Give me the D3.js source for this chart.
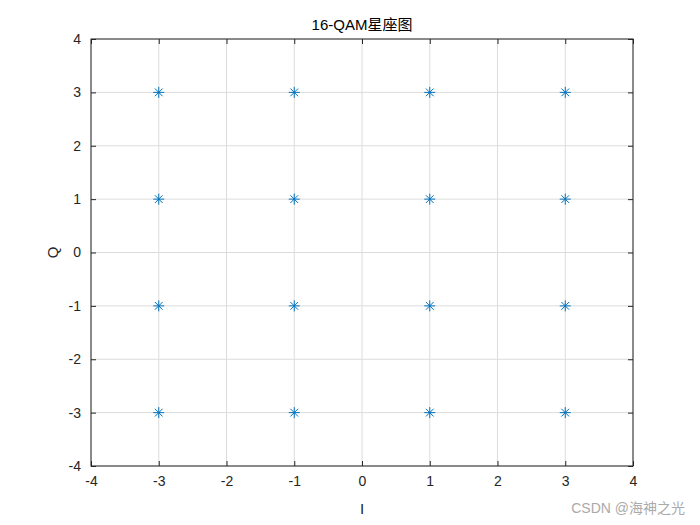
<!DOCTYPE html>
<html><head><meta charset="utf-8">
<script src="https://cdn.jsdelivr.net/npm/d3@7"></script>
<style>body{margin:0;background:#fff}svg{display:block}text{font-family:Arial,"Liberation Sans",sans-serif}</style>
</head><body>
<svg id="c" width="700" height="525"></svg>
<script>
const iValues = [-3,-3,-3,-3,-1,-1,-1,-1,1,1,1,1,3,3,3,3];
const qValues = [3,1,-1,-3,3,1,-1,-3,3,1,-1,-3,3,1,-1,-3];
const xTicks = [-4,-3,-2,-1,0,1,2,3,4];
const yTicks = [-4,-3,-2,-1,0,1,2,3,4];
const titleText = "16-QAM星座图";
const xLabel = "I", yLabel = "Q";
const watermark = "CSDN @海神之光";

const svg = d3.select("#c");
const L=91,R=633,T=39,B=466;
const x = d3.scaleLinear().domain([-4,4]).range([L,R]);
const y = d3.scaleLinear().domain([-4,4]).range([B,T]);
const font = 'Arial,"Liberation Sans","Noto Sans CJK SC",sans-serif';
const fmt = d => String(d);

// grid
svg.append("g").selectAll("line").data(xTicks).join("line")
  .attr("x1",d=>x(d)).attr("x2",d=>x(d)).attr("y1",T).attr("y2",B)
  .attr("stroke","#dcdcdc").attr("stroke-width",1);
svg.append("g").selectAll("line").data(yTicks).join("line")
  .attr("y1",d=>y(d)).attr("y2",d=>y(d)).attr("x1",L).attr("x2",R)
  .attr("stroke","#dcdcdc").attr("stroke-width",1);

// axes
const ax = d3.axisBottom(x).tickValues(xTicks).tickSize(-5).tickPadding(10).tickFormat(fmt);
const ay = d3.axisLeft(y).tickValues(yTicks).tickSize(-5).tickPadding(10).tickFormat(fmt);
const axT = d3.axisTop(x).tickValues(xTicks).tickSize(-5).tickFormat("");
const ayR = d3.axisRight(y).tickValues(yTicks).tickSize(-5).tickFormat("");
function style(g){g.selectAll("path").attr("stroke","#262626").attr("stroke-width",1);
  g.selectAll(".tick line").attr("stroke","#262626");
  g.selectAll("text").attr("fill","#262626").style("font-size","14px").style("font-family",font);}
svg.append("g").attr("transform",`translate(0,${B})`).call(ax).call(style);
svg.append("g").attr("transform",`translate(${L},0)`).call(ay).call(style);
svg.append("g").attr("transform",`translate(0,${T})`).call(axT).call(style);
svg.append("g").attr("transform",`translate(${R},0)`).call(ayR).call(style);
svg.selectAll(".domain").attr("d",null);
svg.append("rect").attr("x",L).attr("y",T).attr("width",R-L).attr("height",B-T)
  .attr("fill","none").attr("stroke","#262626").attr("stroke-width",1);

// markers (asterisk)
const s=5.5;
const pts = iValues.map((v,k)=>({i:v,q:qValues[k]}));
const mk = svg.append("g").selectAll("g").data(pts).join("g")
  .attr("transform",d=>`translate(${x(d.i)},${y(d.q)})`);
const segs = [[-s,0,s,0],[0,-s,0,s],[-s*0.7,-s*0.7,s*0.7,s*0.7],[-s*0.7,s*0.7,s*0.7,-s*0.7]];
segs.forEach(sg=>mk.append("line").attr("x1",sg[0]).attr("y1",sg[1]).attr("x2",sg[2]).attr("y2",sg[3])
  .attr("stroke","#0072BD").attr("stroke-width",1));

// labels
svg.append("text").attr("x",(L+R)/2).attr("y",30).attr("text-anchor","middle")
  .style("font-family",font).style("font-size","15px").attr("fill","#000").text(titleText);
svg.append("text").attr("x",(L+R)/2).attr("y",514).attr("text-anchor","middle")
  .style("font-family",font).style("font-size","15px").attr("fill","#262626").text(xLabel);
svg.append("text").attr("transform",`translate(58,${(T+B)/2}) rotate(-90)`).attr("text-anchor","middle")
  .style("font-family",font).style("font-size","15px").attr("fill","#262626").text(yLabel);
svg.append("text").attr("x",685).attr("y",513).attr("text-anchor","end")
  .style("font-family",font).style("font-size","14px").attr("fill","#aaaaaa").text(watermark);
</script>
</body></html>
